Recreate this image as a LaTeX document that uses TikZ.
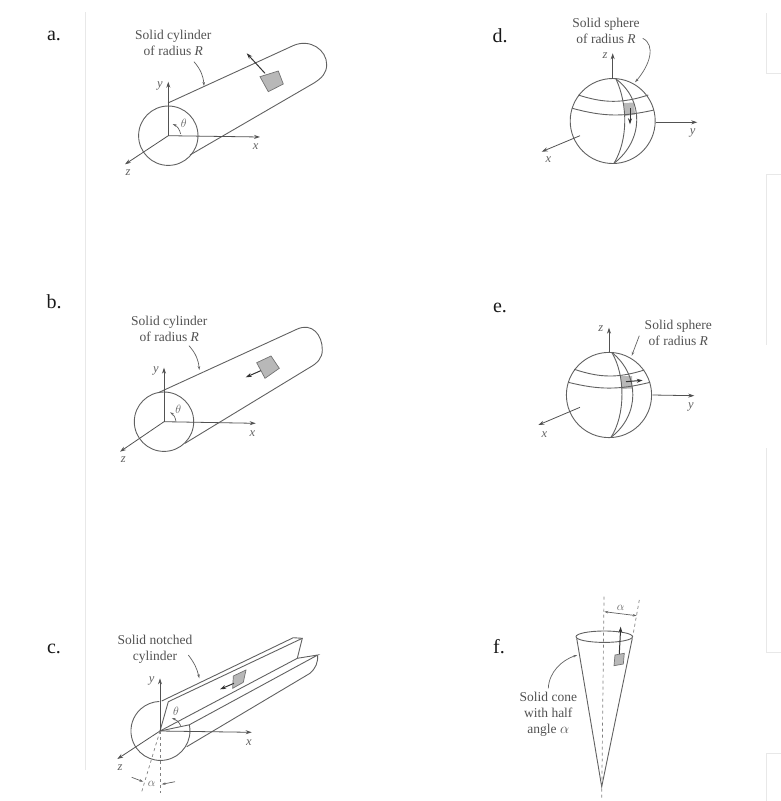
\documentclass[tikz,border=0pt]{standalone}
\usepackage{fontspec}
\setmainfont{Liberation Serif}
\usetikzlibrary{arrows.meta}
\tikzset{
	line/.style={draw=black!62,line width=0.9pt},
	axis/.style={draw=black!68,line width=0.8pt,-{Stealth[length=6pt,width=4pt]}},
	leader/.style={draw=black!62,line width=0.7pt,-{Stealth[length=4pt,width=2.5pt]}},
	normal/.style={draw=black!80,line width=1pt,-{Stealth[length=6pt,width=4pt]}},
	patch/.style={draw=black!55,fill=black!28,line width=0.7pt},
	axis cut/.style={draw=black!50,line width=0.7pt,dashed},
	frame/.style={draw=black!9,line width=0.8pt},
	caption/.style={font=\fontsize{13.5}{16}\selectfont,text=black!68,inner sep=0pt,align=center},
	sign/.style={font=\fontsize{12.5}{14}\selectfont\itshape,text=black!62,inner sep=0pt},
	letter/.style={font=\fontsize{20}{22}\selectfont,text=black!90,inner sep=0pt},
}
\begin{document}
\begin{tikzpicture}[x=1pt,y=-1pt]
	\useasboundingbox (0,0) rectangle (781,801);
	\draw[frame] (85,12) -- (85,770);
	\draw[frame] (766,13) -- (766,73) -- (781,73);
	\draw[frame] (781,174) -- (766,174) -- (766,345);
	\draw[frame] (766,448) -- (766,652) -- (781,652);
	\draw[frame] (781,753) -- (766,753) -- (766,801);

	\node[letter] (la) at (54,36) {a.};
	\node[letter] (lb) at (54,302) {b.};
	\node[letter] (lc) at (54,649) {c.};
	\node[letter] (ld) at (500,36) {d.};
	\node[letter] (le) at (500,308) {e.};
	\node[letter] (lf) at (499,647) {f.};

	% a
	\coordinate (aO) at (168.3,135.7);
	\coordinate (aY) at (168.3,81.7);
	\coordinate (aX) at (260,137);
	\coordinate (aZ) at (125,164.3);
	\draw[line] (aO) circle (29.7);
	\draw[line] (168,103) -- (293,45.7) .. controls (310,38) and (327,50) .. (326.7,65) .. controls (326.5,73) and (322,78) .. (314,83) -- (190,155);
	\draw[axis] (aO) -- (aY);
	\draw[axis] (aO) -- (aX);
	\draw[axis] (aO) -- (aZ);
	\draw[patch] (260,76.7) -- (278.3,71) -- (283.3,84) -- (268.3,91.7) -- cycle;
	\coordinate (aN) at (246.7,53.3);
	\draw[normal] (265,73.3) -- (aN);
	\draw[leader] (180.7,134) to[bend right=25] (172.7,124);
	\node[sign] (ay) at (160,86) {y};
	\node[sign] (ax) at (255.7,146.7) {x};
	\node[sign] (az) at (128,172.7) {z};
	\node[sign] (at) at (183.7,123) {$\theta$};
	\node[caption] (ca) at (173.3,43) {Solid cylinder\\of radius \textit{R}};
	\coordinate (aL) at (204,86);
	\draw[leader] (194,61.7) to[bend left=18] (aL);

	% b
	\coordinate (bO) at (164,421.7);
	\coordinate (bY) at (164,367.7);
	\coordinate (bX) at (255.7,423.3);
	\coordinate (bZ) at (120,451.7);
	\draw[line] (bO) circle (29.7);
	\draw[line] (158.3,392.7) -- (296.7,329.3) .. controls (312,322) and (322.5,335) .. (322.3,350) .. controls (322.2,358) and (318,363) .. (308.3,368.3) -- (185,443.3);
	\draw[axis] (bO) -- (bY);
	\draw[axis] (bO) -- (bX);
	\draw[axis] (bO) -- (bZ);
	\draw[patch] (256.7,362.7) -- (271,356) -- (279.3,368.3) -- (265,378.3) -- cycle;
	\coordinate (bN) at (245.7,377.3);
	\draw[normal] (260.7,370.7) -- (bN);
	\draw[leader] (176,421.7) to[bend right=25] (170,412.3);
	\node[sign] (by) at (156,371) {y};
	\node[sign] (bx) at (252.3,433.3) {x};
	\node[sign] (bz) at (123.3,459.3) {z};
	\node[sign] (bt) at (178.3,409.3) {$\theta$};
	\node[caption] (cb) at (169.3,328.5) {Solid cylinder\\of radius \textit{R}};
	\coordinate (bL) at (199.3,370);
	\draw[leader] (189,345.7) to[bend left=18] (bL);

	% c
	\coordinate (cO) at (160,731);
	\coordinate (cY) at (160,678.3);
	\coordinate (cX) at (251.7,732.3);
	\coordinate (cZ) at (117.3,759);
	\coordinate (cA) at (168.3,701.7);
	\coordinate (cB) at (189.3,724.8);
	\coordinate (cF) at (297.3,658.3);
	\coordinate (cG) at (302.3,638.3);
	\coordinate (cH) at (317.7,655);
	\coordinate (cK) at (310,673.3);
	\draw[line] (cA) -- (cO) -- (cB) arc (-12:268:29.5);
	\draw[line] (161.7,701) -- (293.3,637.7) -- (cG) -- (cF) -- (cO);
	\draw[line] (cA) -- (cG);
	\draw[line] (cF) -- (cH) -- (cB);
	\draw[line] (cH) to[bend left=25] (cK) -- (186.7,746.7);
	\draw[axis] (cO) -- (cY);
	\draw[axis] (cO) -- (cX);
	\draw[axis] (cO) -- (cZ);
	\draw[axis cut] (cO) -- (160,793.3);
	\draw[axis cut] (cO) -- (141.7,791.7);
	\draw[patch] (233.3,676) -- (246,670) -- (243.3,682.3) -- (232.7,688.3) -- cycle;
	\coordinate (cN) at (220,689.3);
	\draw[normal] (234,683.3) -- (cN);
	\draw[leader] (180.7,725.7) to[bend right=25] (171.7,718.3);
	\node[sign] (cy) at (151.7,680.7) {y};
	\node[sign] (cx) at (249,742.3) {x};
	\node[sign] (cz) at (120,767.3) {z};
	\node[sign] (ct) at (176,711.7) {$\theta$};
	\node[sign] (cu) at (151.7,784) {$\alpha$};
	\node[caption] (cc) at (155,649.5) {Solid notched\\cylinder};
	\coordinate (cL) at (199.3,678.3);
	\draw[leader] (188.3,655) to[bend left=12] (cL);
	\coordinate (cP) at (143.3,781.7);
	\coordinate (cQ) at (161.7,784.3);
	\draw[leader] (131.7,777.3) -- (cP);
	\draw[leader] (175,781.7) -- (cQ);

	% d
	\coordinate (dO) at (612.7,121);
	\coordinate (dT) at (612.7,79);
	\coordinate (dZ) at (612.7,53.3);
	\coordinate (dR) at (655.7,122.3);
	\coordinate (dY) at (697.3,122.3);
	\coordinate (dS) at (580,135.7);
	\coordinate (dX) at (541.7,151.7);
	\fill[black!28] (624,103) -- (634,102.5) -- (635,114.5) -- (625,116) -- cycle;
	\draw[line] (dO) circle (42.5);
	\draw[line] (578.3,95) to[bend right=18] (648.3,95);
	\draw[line] (572.3,108.3) to[bend right=14] (654,110);
	\draw[line] (616,79) .. controls (628,105) and (628,140) .. (614,163.3);
	\draw[line] (616,79) .. controls (644,100) and (644,140) .. (614,163.3);
	\draw[axis] (dT) -- (dZ);
	\draw[axis] (dR) -- (dY);
	\draw[axis] (dS) -- (dX);
	\coordinate (dN) at (630,124.3);
	\draw[normal] (630,108.3) -- (dN);
	\node[sign] (dz) at (605,55.7) {z};
	\node[sign] (dy) at (692.7,133.3) {y};
	\node[sign] (dx) at (548.3,160) {x};
	\node[caption] (cd) at (606,30.5) {Solid sphere\\of radius \textit{R}};
	\coordinate (dL) at (635,82.3);
	\draw[leader] (642.7,38.3) .. controls (656,45) and (650,65) .. (dL);

	% e
	\coordinate (eO) at (609,395);
	\coordinate (eT) at (609,352.3);
	\coordinate (eZ) at (609,327.7);
	\coordinate (eR) at (652.7,395);
	\coordinate (eY) at (694.3,395.7);
	\coordinate (eS) at (580,407.3);
	\coordinate (eX) at (538.3,425);
	\fill[black!28] (621,376) -- (632,376) -- (632,388.5) -- (621,389) -- cycle;
	\draw[line] (eO) circle (42.6);
	\draw[line] (574.3,369.3) to[bend right=18] (644.3,370);
	\draw[line] (568.3,382.3) to[bend right=14] (650,382.3);
	\draw[line] (611.7,352.3) .. controls (625.5,375) and (625.5,415) .. (611,437.3);
	\draw[line] (611.7,352.3) .. controls (640,375) and (640,415) .. (611,437.3);
	\draw[axis] (eT) -- (eZ);
	\draw[axis] (eR) -- (eY);
	\draw[axis] (eS) -- (eX);
	\coordinate (eN) at (642.7,380.3);
	\draw[normal] (626,381.7) -- (eN);
	\node[sign] (ez) at (600.7,329) {z};
	\node[sign] (ey) at (691,406.7) {y};
	\node[sign] (ex) at (544.3,434.3) {x};
	\node[caption] (ce) at (678.3,332.5) {Solid sphere\\of radius \textit{R}};
	\coordinate (eL) at (631.7,355.7);
	\draw[leader] (639.3,335.7) -- (eL);

	% f
	\coordinate (fC) at (604.3,636.7);
	\coordinate (fA) at (601.7,786.7);
	\coordinate (fU) at (576.7,638.3);
	\coordinate (fV) at (632.3,638.3);
	\draw[line] (fC) ellipse (28.3 and 5.7);
	\draw[line] (fU) -- (fA) -- (fV);
	\draw[axis cut] (604,596.7) -- (601.7,800);
	\draw[axis cut] (639.3,600) -- (633.3,633.3);
	\draw[patch] (615,655) -- (624.3,653.3) -- (623.3,664) -- (614,665.7) -- cycle;
	\coordinate (fN) at (620.7,626.7);
	\draw[normal] (619.3,654) -- (fN);
	\coordinate (fP) at (604.3,611.7);
	\coordinate (fQ) at (636.7,615.7);
	\draw[leader,{Stealth[length=4pt,width=2.5pt]}-{Stealth[length=4pt,width=2.5pt]}] (fP) -- (fQ);
	\node[sign] (fa) at (620.7,608) {$\alpha$};
	\node[caption] (cf) at (548.3,714) {Solid cone\\with half\\angle $\alpha$};
	\coordinate (fL) at (577.3,655);
	\draw[leader] (548.3,688.3) .. controls (549,672) and (562,660) .. (fL);
\end{tikzpicture}
\end{document}
